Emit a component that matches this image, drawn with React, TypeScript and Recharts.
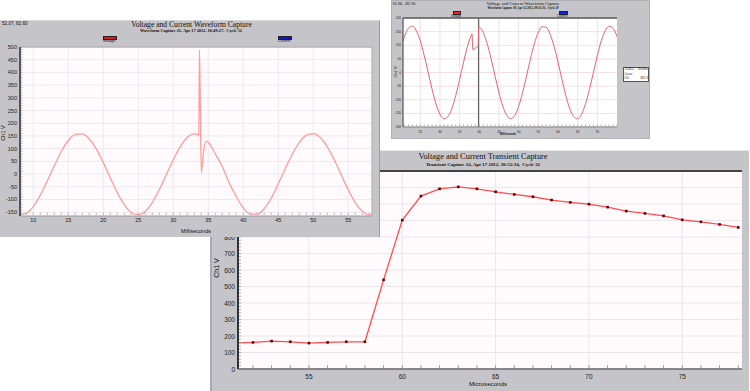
import { LineChart, Line, XAxis, YAxis, CartesianGrid, ReferenceLine } from 'recharts';

const SERIF = '"Liberation Serif", "Times New Roman", serif';
const SANS = '"Liberation Sans", Arial, sans-serif';

// capture 1 (left window): time in ms, Ch1 volts
const wave1Ms = [8, 9, 10, 11, 12, 13, 14, 15, 16, 17, 18, 19, 20, 21, 22, 23, 24, 25, 26, 27, 28, 29, 30, 31, 32, 33, 33.5, 33.65, 33.75, 34, 34.3, 34.7, 35.1, 36, 37, 38, 39, 40, 41, 42, 43, 44, 45, 46, 47, 48, 49, 50, 51, 52, 53, 54, 55, 56, 57, 58, 59];
const wave1Volts = [-159, -154, -128, -83, -27, 33, 89, 132, 156, 158, 138, 99, 45, -15, -73, -120, -151, -160, -146, -112, -62, -3, 56, 108, 144, 158, 155, 150, 490, 5, 82, 130, 122, 80, 30, -35, -88, -133, -157, -158, -136, -95, -39, 21, 78, 124, 152, 159, 144, 108, 56, -3, -62, -112, -146, -160, -154];
const wave1XTicks = [10, 15, 20, 25, 30, 35, 40, 45, 50, 55];
const wave1YTicks = [-150, -100, -50, 0, 50, 100, 150, 200, 250, 300, 350, 400, 450, 500];

// capture 2 (top right window)
const wave2Ms = [20, 21, 22, 23, 24, 25, 26, 27, 28, 29, 30, 31, 32, 33, 34, 35, 36, 37, 38, 38.15, 38.35, 39, 39.7, 39.85, 40.5, 41, 42, 43, 44, 45, 46, 47, 48, 49, 50, 51, 52, 53, 54, 55, 56, 57, 58, 59, 60, 61, 62, 63, 64, 65, 66, 67, 68, 69, 70, 71, 72, 73, 74, 75, 76];
const wave2Volts = [85, 133, 163, 170, 153, 116, 62, 0, -62, -116, -153, -170, -162, -133, -85, -25, 38, 96, 138, 142, 84, 89, 98, 168, 160, 147, 106, 50, -13, -74, -125, -158, -170, -158, -124, -74, -13, 50, 106, 147, 168, 166, 140, 96, 38, -25, -85, -133, -162, -170, -153, -115, -62, 0, 62, 116, 153, 170, 162, 133, 85];
const wave2XTicks = [25, 30, 35, 40, 45, 50, 55, 60, 65, 70];
const wave2YTicks = [-200, -150, -100, -50, 0, 50, 100, 150, 200];

// capture 3 (transient, bottom right): time in microseconds
const transUs = [51, 52, 53, 54, 55, 56, 57, 58, 59, 60, 61, 62, 63, 64, 65, 66, 67, 68, 69, 70, 71, 72, 73, 74, 75, 76, 77, 78];
const transVolts = [158, 161, 169, 165, 157, 161, 165, 165, 540, 902, 1048, 1092, 1104, 1092, 1074, 1058, 1044, 1024, 1010, 999, 981, 957, 943, 928, 904, 892, 876, 858];
const transXTicks = [55, 60, 65, 70, 75];
const transYTicks = [0, 100, 200, 300, 400, 500, 600, 700, 800, 900, 1000, 1100, 1200];

const wave1 = wave1Ms.map((t, i) => ({ t, v: wave1Volts[i] }));
const wave2 = wave2Ms.map((t, i) => ({ t, v: wave2Volts[i] }));
const trans = transUs.map((t, i) => ({ t, v: transVolts[i] }));

const range = (a: number, b: number, step: number) => {
  const out: number[] = [];
  for (let v = a; v <= b + 1e-9; v += step) out.push(Math.round(v * 100) / 100);
  return out;
};

const isMajor = (v: number, list: number[]) => list.some((m) => Math.abs(m - v) < 1e-6);

type TickOpts = { majors: number[]; len: number; font: number; gap: number; tickColor: string };

const xTick = (o: TickOpts) => (props: any) => {
  const { x, y, payload } = props;
  const v = payload.value as number;
  return (
    <g>
      <line x1={x} x2={x} y1={y - 1} y2={y - 1 - o.len} stroke={o.tickColor} strokeWidth={0.8} />
      {isMajor(v, o.majors) && (
        <text x={x} y={y + o.gap} textAnchor="middle" dominantBaseline="hanging" fontSize={o.font} fill="#222" fontFamily={SANS}>
          {v}
        </text>
      )}
    </g>
  );
};

const yTick = (o: TickOpts) => (props: any) => {
  const { x, y, payload } = props;
  const v = payload.value as number;
  return (
    <g>
      <line x1={x + 1} x2={x + 1 + o.len} y1={y} y2={y} stroke={o.tickColor} strokeWidth={0.8} />
      {isMajor(v, o.majors) && (
        <text x={x - o.gap} y={y} textAnchor="end" dominantBaseline="central" fontSize={o.font} fill="#222" fontFamily={SANS}>
          {v}
        </text>
      )}
    </g>
  );
};

const Txt = ({ x, y, size, children, serif = false, bold = false, anchor = 'middle', rotate = 0, color = '#111' }: any) => (
  <div
    style={{
      position: 'absolute',
      left: x,
      top: y,
      fontSize: size,
      lineHeight: 1,
      whiteSpace: 'nowrap',
      fontFamily: serif ? SERIF : SANS,
      fontWeight: bold ? 700 : 400,
      color,
      transform: `translate(${anchor === 'start' ? '0' : anchor === 'end' ? '-100%' : '-50%'}, -50%)${rotate ? ` rotate(${rotate}deg)` : ''}`,
    }}
  >
    {children}
  </div>
);

const Swatch = ({ x, y, w, h, color }: any) => (
  <div style={{ position: 'absolute', left: x, top: y, width: w, height: h, background: color, border: '0.5px solid #222' }} />
);

const PANEL_GRAY = '#c5c4c9';

export default function App() {
  return (
    <div style={{ position: 'absolute', left: 0, top: 0, width: 750, height: 391, background: '#fff', overflow: 'hidden' }}>
      {/* transient capture */}
      <div style={{ position: 'absolute', left: 210, top: 150, width: 539, height: 241, background: PANEL_GRAY, borderLeft: '2px solid #a4a9bf', borderTop: '1px solid #e8e8ec', boxSizing: 'border-box' }}>
        <LineChart width={537} height={240} data={trans} margin={{ top: 20, right: 7, bottom: 2, left: 0 }}>
          <CartesianGrid fill="#fffbfd" stroke="#ebe5ec" horizontalValues={transYTicks} verticalValues={transXTicks} />
          <XAxis
            dataKey="t"
            type="number"
            domain={[51.2, 78.2]}
            allowDataOverflow
            ticks={range(52, 78, 1)}
            interval={0}
            height={20}
            tickSize={0}
            tickMargin={0}
            tickLine={false}
            axisLine={{ stroke: '#666', strokeWidth: 1.5 }}
            tick={xTick({ majors: transXTicks, len: 3, font: 6.5, gap: 5, tickColor: '#888' })}
          />
          <YAxis
            type="number"
            domain={[0, 1200]}
            allowDataOverflow
            ticks={range(0, 1200, 20)}
            interval={0}
            width={26}
            tickSize={0}
            tickMargin={0}
            tickLine={false}
            axisLine={{ stroke: '#333', strokeWidth: 2 }}
            tick={yTick({ majors: transYTicks, len: 2, font: 6.5, gap: 3, tickColor: '#999' })}
          />
          <ReferenceLine y={1200} stroke="#444" strokeWidth={2} />
          <Line
            dataKey="v"
            type="linear"
            stroke="#ff4d4d"
            strokeWidth={1.3}
            isAnimationActive={false}
            activeDot={false}
            dot={(p: any) => <rect key={`d${p.index}`} x={p.cx - 1.3} y={p.cy - 1.3} width={2.6} height={2.6} fill="#6a0000" />}
          />
        </LineChart>
      </div>
      <Txt x={483} y={157} size={8.4} serif>Voltage and Current Transient Capture</Txt>
      <Txt x={483} y={165} size={4.9} serif bold>Transient Capture #2, Apr 17 2012, 10:52:34,&nbsp; Cycle 32</Txt>
      <Txt x={216} y={268} size={7} rotate={-90}>Ch1 V</Txt>
      <Txt x={488} y={384} size={6.2}>Microseconds</Txt>

      {/* waveform capture, top right */}
      <div style={{ position: 'absolute', left: 391, top: 0, width: 259, height: 139, background: PANEL_GRAY, border: '0.5px solid #b0b0b6', boxSizing: 'border-box' }}>
        <LineChart width={259} height={139} data={wave2} margin={{ top: 17, right: 34, bottom: 3, left: 0 }}>
          <CartesianGrid fill="#ffffff" stroke="#f2e0e6" horizontalValues={wave2YTicks} verticalValues={wave2XTicks} />
          <XAxis
            dataKey="t"
            type="number"
            domain={[20.6, 75]}
            allowDataOverflow
            ticks={range(21, 75, 1)}
            interval={0}
            height={10}
            tickSize={0}
            tickMargin={0}
            tickLine={false}
            axisLine={{ stroke: '#777' }}
            tick={xTick({ majors: wave2XTicks, len: 1.5, font: 3.2, gap: 3.5, tickColor: '#999' })}
          />
          <YAxis
            type="number"
            domain={[-200, 200]}
            allowDataOverflow
            ticks={wave2YTicks}
            interval={0}
            width={11}
            tickSize={0}
            tickMargin={0}
            tickLine={false}
            axisLine={{ stroke: '#555', strokeWidth: 1.2 }}
            tick={yTick({ majors: wave2YTicks, len: 0, font: 3.2, gap: 2, tickColor: '#999' })}
          />
          <ReferenceLine y={200} stroke="#555" strokeWidth={1.5} />
          <ReferenceLine x={39.8} stroke="#666" strokeWidth={1.2} />
          <Line dataKey="v" type="monotone" stroke="#e06474" strokeWidth={1} dot={false} activeDot={false} isAnimationActive={false} />
        </LineChart>
      </div>
      <Txt x={392} y={4} size={4} anchor="start">74.36, -82.90</Txt>
      <Txt x={523} y={3.5} size={4.6} serif>Voltage and Current Waveform Capture</Txt>
      <Txt x={523} y={8.3} size={3} serif bold>Waveform Capture #9, Apr 12 2012, 09:21:31,&nbsp; Cycle 29</Txt>
      <Swatch x={452.5} y={11.3} w={6.5} h={2.2} color="#ff2020" />
      <Txt x={456} y={15.8} size={3}>Voltage</Txt>
      <Swatch x={559} y={11.3} w={6.5} h={2.2} color="#1020ff" />
      <Txt x={562} y={15.8} size={3}>Current</Txt>
      <Txt x={396} y={72} size={4} rotate={-90}>Ch1 V</Txt>
      <Txt x={508} y={135} size={2.7} bold>Milliseconds</Txt>
      <div style={{ position: 'absolute', left: 623, top: 67, width: 26, height: 15, background: '#fff', border: '0.5px solid #555', boxSizing: 'border-box' }} />
      <Txt x={624.5} y={69.5} size={2.6} anchor="start">74.3612</Txt>
      <Txt x={648} y={69.5} size={2.6} anchor="end">38.60ms</Txt>
      <Txt x={624.5} y={74.5} size={2.6} anchor="start">Cursor</Txt>
      <Txt x={624.5} y={79} size={2.6} anchor="start">Ch1</Txt>
      <Txt x={648} y={79} size={2.6} anchor="end">88.2 V</Txt>

      {/* waveform capture, left */}
      <div style={{ position: 'absolute', left: 0, top: 20, width: 380, height: 217, background: PANEL_GRAY, borderRight: '1px solid #9d9ca4', borderTop: '1px solid #d8d8dc', boxSizing: 'border-box' }}>
        <LineChart width={380} height={217} data={wave1} margin={{ top: 26, right: 8, bottom: 3, left: 0 }}>
          <CartesianGrid fill="#fffbfd" stroke="#eee8ef" horizontalValues={wave1YTicks} verticalValues={wave1XTicks} />
          <XAxis
            dataKey="t"
            type="number"
            domain={[8.1, 58.4]}
            allowDataOverflow
            ticks={range(9, 58, 1)}
            interval={0}
            height={19}
            tickSize={0}
            tickMargin={0}
            tickLine={false}
            axisLine={{ stroke: '#999' }}
            tick={xTick({ majors: wave1XTicks, len: 2.5, font: 5.5, gap: 1.5, tickColor: '#aaa' })}
          />
          <YAxis
            type="number"
            domain={[-165, 500]}
            allowDataOverflow
            ticks={range(-160, 500, 10)}
            interval={0}
            width={20}
            tickSize={0}
            tickMargin={0}
            tickLine={false}
            axisLine={{ stroke: '#555', strokeWidth: 2 }}
            tick={yTick({ majors: wave1YTicks, len: 1.5, font: 5.5, gap: 3, tickColor: '#aaa' })}
          />
          <ReferenceLine y={500} stroke="#9a9a9a" />
          <ReferenceLine x={58.4} stroke="#aaa" />
          <Line dataKey="v" type="monotone" stroke="#ff9c9c" strokeWidth={1.3} dot={false} activeDot={false} isAnimationActive={false} />
        </LineChart>
      </div>
      <Txt x={2} y={24} size={4.6} anchor="start">52.07, 82.60</Txt>
      <Txt x={191.5} y={24.8} size={7.6} serif>Voltage and Current Waveform Capture</Txt>
      <Txt x={191} y={31.2} size={4.3} serif bold>Waveform Capture #1, Apr 17 2012, 10:49:27,&nbsp; Cycle 52</Txt>
      <Swatch x={103} y={35.6} w={12} h={2.6} color="#e01818" />
      <Txt x={109} y={42.3} size={3.8}>Voltage</Txt>
      <Swatch x={278} y={35.6} w={12} h={2.6} color="#1414c8" />
      <Txt x={284} y={42.3} size={3.8}>Current</Txt>
      <Txt x={4} y={133} size={5.5} rotate={-90}>Ch1 V</Txt>
      <Txt x={196} y={232} size={5.5}>Milliseconds</Txt>
    </div>
  );
}
